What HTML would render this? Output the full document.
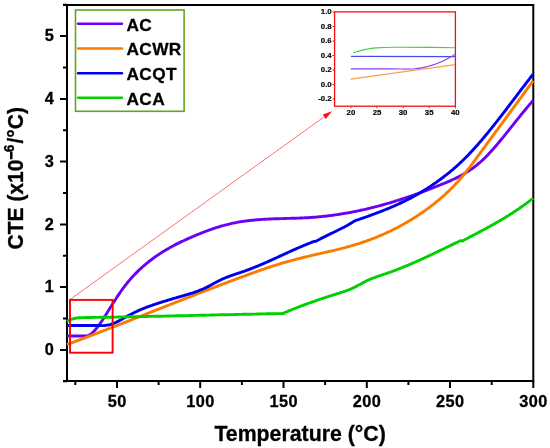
<!DOCTYPE html>
<html><head><meta charset="utf-8"><style>
html,body{margin:0;padding:0;background:#fff;}
svg{display:block;}
text{font-family:"Liberation Sans",Arial,sans-serif;font-weight:bold;fill:#000;stroke:#000;stroke-width:0.3px;}
.i text{stroke-width:0.15px;}
</style></head><body>
<svg width="550" height="448" viewBox="0 0 550 448">
<rect width="550" height="448" fill="#fff"/>
<path d="M63 5H533.3V381H63M67 5V381" stroke="#000" stroke-width="2" fill="none"/>
<path d="M75.3 381V385 M117.0 381V388 M158.6 381V385 M200.2 381V388 M241.9 381V385 M283.5 381V388 M325.1 381V385 M366.8 381V388 M408.4 381V385 M450.0 381V388 M491.7 381V385 M533.3 381V388 M67 381.3H63 M67 349.9H60 M67 318.5H63 M67 287.1H60 M67 255.8H63 M67 224.4H60 M67 193.0H63 M67 161.6H60 M67 130.2H63 M67 98.9H60 M67 67.5H63 M67 36.1H60 M67 4.7H63" stroke="#000" stroke-width="2" fill="none"/>
<g fill="none" stroke-width="2.9" stroke-linejoin="round" stroke-linecap="butt">
<polyline points="67.0,336.0 85.0,336.0 86.0,336.0 87.0,336.0 88.0,335.7 89.0,335.2 90.0,334.6 91.0,333.9 92.0,333.1 93.0,332.2 94.0,331.2 95.0,330.1 96.0,328.9 97.0,327.7 98.0,326.4 99.0,325.0 100.0,323.6 101.0,322.2 102.0,320.7 103.0,319.2 104.0,317.6 105.0,316.0 106.0,314.5 107.0,312.9 108.0,311.3 109.0,309.7 110.0,308.1 111.0,306.5 112.0,304.9 113.0,303.3 114.0,301.8 115.0,300.2 116.0,298.7 117.0,297.1 118.0,295.6 119.0,294.1 120.0,292.7 121.0,291.2 122.0,289.8 123.0,288.4 124.0,287.1 125.0,285.7 126.0,284.5 127.0,283.2 128.0,282.0 129.0,280.8 130.0,279.6 131.0,278.4 132.0,277.3 133.0,276.2 134.0,275.2 135.0,274.1 136.0,273.1 137.0,272.1 138.0,271.1 139.0,270.1 140.0,269.2 141.0,268.3 142.0,267.4 143.0,266.5 144.0,265.6 145.0,264.8 146.0,263.9 147.0,263.1 148.0,262.3 149.0,261.5 150.0,260.7 151.0,260.0 152.0,259.2 153.0,258.5 154.0,257.7 155.0,257.0 156.0,256.3 157.0,255.6 158.0,254.9 159.0,254.3 160.0,253.6 161.0,253.0 162.0,252.3 163.0,251.7 164.0,251.1 165.0,250.5 166.0,249.9 167.0,249.3 168.0,248.7 169.0,248.2 170.0,247.6 171.0,247.0 172.0,246.5 173.0,246.0 174.0,245.4 175.0,244.9 176.0,244.4 177.0,243.9 178.0,243.4 179.0,242.9 180.0,242.4 181.0,241.9 182.0,241.4 183.0,241.0 184.0,240.5 185.0,240.0 186.0,239.6 187.0,239.1 188.0,238.7 189.0,238.2 190.0,237.8 191.0,237.4 192.0,236.9 193.0,236.5 194.0,236.1 195.0,235.6 196.0,235.2 197.0,234.8 198.0,234.4 199.0,234.0 200.0,233.6 201.0,233.2 202.0,232.8 203.0,232.4 204.0,232.0 205.0,231.6 206.0,231.2 207.0,230.9 208.0,230.5 209.0,230.1 210.0,229.8 211.0,229.4 212.0,229.1 213.0,228.7 214.0,228.4 215.0,228.1 216.0,227.7 217.0,227.4 218.0,227.1 219.0,226.8 220.0,226.5 221.0,226.2 222.0,225.9 223.0,225.6 224.0,225.4 225.0,225.1 226.0,224.8 227.0,224.6 228.0,224.3 229.0,224.1 230.0,223.8 231.0,223.6 232.0,223.4 233.0,223.2 234.0,223.0 235.0,222.8 236.0,222.6 237.0,222.4 238.0,222.2 239.0,222.0 240.0,221.9 241.0,221.7 242.0,221.5 243.0,221.4 244.0,221.2 245.0,221.1 246.0,221.0 247.0,220.8 248.0,220.7 249.0,220.6 250.0,220.5 251.0,220.4 252.0,220.3 253.0,220.2 254.0,220.1 255.0,220.0 256.0,219.9 257.0,219.8 258.0,219.7 259.0,219.6 260.0,219.6 261.0,219.5 262.0,219.4 263.0,219.4 264.0,219.3 265.0,219.2 266.0,219.2 267.0,219.1 268.0,219.1 269.0,219.0 270.0,219.0 271.0,219.0 272.0,218.9 273.0,218.9 274.0,218.8 275.0,218.8 276.0,218.8 277.0,218.7 278.0,218.7 279.0,218.7 280.0,218.6 281.0,218.6 282.0,218.6 283.0,218.6 284.0,218.5 285.0,218.5 286.0,218.5 287.0,218.4 288.0,218.4 289.0,218.4 290.0,218.4 291.0,218.3 292.0,218.3 293.0,218.3 294.0,218.2 295.0,218.2 296.0,218.2 297.0,218.1 298.0,218.1 299.0,218.1 300.0,218.0 301.0,218.0 302.0,218.0 303.0,217.9 304.0,217.9 305.0,217.8 306.0,217.8 307.0,217.7 308.0,217.7 309.0,217.6 310.0,217.5 311.0,217.5 312.0,217.4 313.0,217.3 314.0,217.2 315.0,217.2 316.0,217.1 317.0,217.0 318.0,216.9 319.0,216.8 320.0,216.7 321.0,216.6 322.0,216.5 323.0,216.4 324.0,216.3 325.0,216.2 326.0,216.1 327.0,216.0 328.0,215.9 329.0,215.7 330.0,215.6 331.0,215.5 332.0,215.4 333.0,215.2 334.0,215.1 335.0,214.9 336.0,214.8 337.0,214.6 338.0,214.5 339.0,214.3 340.0,214.2 341.0,214.0 342.0,213.9 343.0,213.7 344.0,213.5 345.0,213.4 346.0,213.2 347.0,213.0 348.0,212.8 349.0,212.6 350.0,212.5 351.0,212.3 352.0,212.1 353.0,211.9 354.0,211.7 355.0,211.5 356.0,211.3 357.0,211.1 358.0,210.9 359.0,210.7 360.0,210.5 361.0,210.2 362.0,210.0 363.0,209.8 364.0,209.6 365.0,209.3 366.0,209.1 367.0,208.9 368.0,208.6 369.0,208.4 370.0,208.2 371.0,207.9 372.0,207.7 373.0,207.4 374.0,207.2 375.0,206.9 376.0,206.6 377.0,206.4 378.0,206.1 379.0,205.9 380.0,205.6 381.0,205.3 382.0,205.0 383.0,204.8 384.0,204.5 385.0,204.2 386.0,203.9 387.0,203.6 388.0,203.3 389.0,203.1 390.0,202.8 391.0,202.5 392.0,202.2 393.0,201.9 394.0,201.6 395.0,201.2 396.0,200.9 397.0,200.6 398.0,200.3 399.0,200.0 400.0,199.7 401.0,199.3 402.0,199.0 403.0,198.7 404.0,198.4 405.0,198.0 406.0,197.7 407.0,197.4 408.0,197.0 409.0,196.7 410.0,196.3 411.0,196.0 412.0,195.6 413.0,195.3 414.0,194.9 415.0,194.6 416.0,194.2 417.0,193.9 418.0,193.5 419.0,193.1 420.0,192.8 421.0,192.4 422.0,192.0 423.0,191.7 424.0,191.3 425.0,190.9 426.0,190.5 427.0,190.2 428.0,189.8 429.0,189.4 430.0,189.0 431.0,188.6 432.0,188.2 433.0,187.8 434.0,187.4 435.0,187.0 436.0,186.6 437.0,186.2 438.0,185.8 439.0,185.4 440.0,185.0 441.0,184.6 442.0,184.2 443.0,183.8 444.0,183.4 445.0,183.0 446.0,182.6 447.0,182.1 448.0,181.7 449.0,181.3 450.0,180.8 451.0,180.4 452.0,179.9 453.0,179.5 454.0,179.0 455.0,178.6 456.0,178.1 457.0,177.6 458.0,177.1 459.0,176.6 460.0,176.0 461.0,175.5 462.0,175.0 463.0,174.4 464.0,173.8 465.0,173.2 466.0,172.6 467.0,172.0 468.0,171.4 469.0,170.7 470.0,170.1 471.0,169.4 472.0,168.7 473.0,168.0 474.0,167.2 475.0,166.5 476.0,165.7 477.0,164.9 478.0,164.1 479.0,163.2 480.0,162.4 481.0,161.5 482.0,160.6 483.0,159.6 484.0,158.7 485.0,157.7 486.0,156.7 487.0,155.7 488.0,154.7 489.0,153.6 490.0,152.5 491.0,151.4 492.0,150.3 493.0,149.2 494.0,148.1 495.0,147.0 496.0,145.8 497.0,144.6 498.0,143.4 499.0,142.2 500.0,141.0 501.0,139.8 502.0,138.6 503.0,137.4 504.0,136.2 505.0,134.9 506.0,133.7 507.0,132.4 508.0,131.2 509.0,129.9 510.0,128.6 511.0,127.4 512.0,126.1 513.0,124.9 514.0,123.6 515.0,122.3 516.0,121.1 517.0,119.8 518.0,118.6 519.0,117.3 520.0,116.1 521.0,114.8 522.0,113.6 523.0,112.4 524.0,111.2 525.0,110.0 526.0,108.8 527.0,107.6 528.0,106.4 529.0,105.2 530.0,104.1 531.0,102.9 532.0,101.8 533.0,100.7 533.2,100.5" stroke="#6c00f5" />
<polyline points="67.0,344.6 68.0,344.2 69.0,343.8 70.0,343.5 71.0,343.1 72.0,342.7 73.0,342.3 74.0,342.0 75.0,341.6 76.0,341.2 77.0,340.8 78.0,340.5 79.0,340.1 80.0,339.7 81.0,339.3 82.0,339.0 83.0,338.6 84.0,338.2 85.0,337.8 86.0,337.4 87.0,337.1 88.0,336.7 89.0,336.3 90.0,335.9 91.0,335.5 92.0,335.1 93.0,334.8 94.0,334.4 95.0,334.0 96.0,333.6 97.0,333.2 98.0,332.8 99.0,332.5 100.0,332.1 101.0,331.7 102.0,331.3 103.0,330.9 104.0,330.5 105.0,330.1 106.0,329.8 107.0,329.4 108.0,329.0 109.0,328.6 110.0,328.2 111.0,327.8 112.0,327.4 113.0,327.0 114.0,326.6 115.0,326.3 116.0,325.9 117.0,325.5 118.0,325.1 119.0,324.7 120.0,324.3 121.0,323.9 122.0,323.5 123.0,323.1 124.0,322.7 125.0,322.3 126.0,322.0 127.0,321.6 128.0,321.2 129.0,320.8 130.0,320.4 131.0,320.0 132.0,319.6 133.0,319.2 134.0,318.8 135.0,318.4 136.0,318.0 137.0,317.6 138.0,317.2 139.0,316.8 140.0,316.4 141.0,316.1 142.0,315.7 143.0,315.3 144.0,314.9 145.0,314.5 146.0,314.1 147.0,313.7 148.0,313.3 149.0,312.9 150.0,312.5 151.0,312.1 152.0,311.7 153.0,311.3 154.0,310.9 155.0,310.5 156.0,310.1 157.0,309.7 158.0,309.3 159.0,308.9 160.0,308.6 161.0,308.2 162.0,307.8 163.0,307.4 164.0,307.0 165.0,306.6 166.0,306.2 167.0,305.8 168.0,305.4 169.0,305.0 170.0,304.6 171.0,304.2 172.0,303.8 173.0,303.4 174.0,303.0 175.0,302.6 176.0,302.2 177.0,301.9 178.0,301.5 179.0,301.1 180.0,300.7 181.0,300.3 182.0,299.9 183.0,299.5 184.0,299.1 185.0,298.7 186.0,298.3 187.0,297.9 188.0,297.5 189.0,297.1 190.0,296.8 191.0,296.4 192.0,296.0 193.0,295.6 194.0,295.2 195.0,294.8 196.0,294.4 197.0,294.0 198.0,293.6 199.0,293.2 200.0,292.9 201.0,292.5 202.0,292.1 203.0,291.7 204.0,291.3 205.0,290.9 206.0,290.5 207.0,290.1 208.0,289.8 209.0,289.4 210.0,289.0 211.0,288.6 212.0,288.2 213.0,287.8 214.0,287.4 215.0,287.1 216.0,286.7 217.0,286.3 218.0,285.9 219.0,285.5 220.0,285.1 221.0,284.8 222.0,284.4 223.0,284.0 224.0,283.6 225.0,283.2 226.0,282.9 227.0,282.5 228.0,282.1 229.0,281.7 230.0,281.3 231.0,281.0 232.0,280.6 233.0,280.2 234.0,279.8 235.0,279.5 236.0,279.1 237.0,278.7 238.0,278.3 239.0,278.0 240.0,277.6 241.0,277.2 242.0,276.9 243.0,276.5 244.0,276.1 245.0,275.8 246.0,275.4 247.0,275.0 248.0,274.7 249.0,274.3 250.0,273.9 251.0,273.6 252.0,273.2 253.0,272.9 254.0,272.5 255.0,272.1 256.0,271.8 257.0,271.4 258.0,271.1 259.0,270.7 260.0,270.4 261.0,270.0 262.0,269.7 263.0,269.4 264.0,269.0 265.0,268.7 266.0,268.3 267.0,268.0 268.0,267.7 269.0,267.3 270.0,267.0 271.0,266.7 272.0,266.4 273.0,266.0 274.0,265.7 275.0,265.4 276.0,265.1 277.0,264.8 278.0,264.5 279.0,264.1 280.0,263.8 281.0,263.5 282.0,263.2 283.0,262.9 284.0,262.6 285.0,262.3 286.0,262.0 287.0,261.8 288.0,261.5 289.0,261.2 290.0,260.9 291.0,260.6 292.0,260.4 293.0,260.1 294.0,259.8 295.0,259.6 296.0,259.3 297.0,259.0 298.0,258.8 299.0,258.5 300.0,258.3 301.0,258.0 302.0,257.8 303.0,257.5 304.0,257.3 305.0,257.0 306.0,256.8 307.0,256.6 308.0,256.3 309.0,256.1 310.0,255.9 311.0,255.6 312.0,255.4 313.0,255.2 314.0,254.9 315.0,254.7 316.0,254.5 317.0,254.2 318.0,254.0 319.0,253.8 320.0,253.6 321.0,253.3 322.0,253.1 323.0,252.9 324.0,252.7 325.0,252.4 326.0,252.2 327.0,252.0 328.0,251.7 329.0,251.5 330.0,251.3 331.0,251.0 332.0,250.8 333.0,250.6 334.0,250.3 335.0,250.1 336.0,249.8 337.0,249.6 338.0,249.3 339.0,249.1 340.0,248.8 341.0,248.6 342.0,248.3 343.0,248.1 344.0,247.8 345.0,247.6 346.0,247.3 347.0,247.0 348.0,246.7 349.0,246.5 350.0,246.2 351.0,245.9 352.0,245.6 353.0,245.3 354.0,245.0 355.0,244.7 356.0,244.4 357.0,244.1 358.0,243.8 359.0,243.5 360.0,243.2 361.0,242.8 362.0,242.5 363.0,242.2 364.0,241.8 365.0,241.5 366.0,241.1 367.0,240.8 368.0,240.4 369.0,240.0 370.0,239.7 371.0,239.3 372.0,238.9 373.0,238.5 374.0,238.2 375.0,237.8 376.0,237.4 377.0,237.0 378.0,236.5 379.0,236.1 380.0,235.7 381.0,235.3 382.0,234.9 383.0,234.4 384.0,234.0 385.0,233.5 386.0,233.1 387.0,232.6 388.0,232.2 389.0,231.7 390.0,231.2 391.0,230.7 392.0,230.2 393.0,229.7 394.0,229.2 395.0,228.7 396.0,228.2 397.0,227.7 398.0,227.2 399.0,226.7 400.0,226.1 401.0,225.6 402.0,225.0 403.0,224.5 404.0,223.9 405.0,223.3 406.0,222.8 407.0,222.2 408.0,221.6 409.0,221.0 410.0,220.4 411.0,219.8 412.0,219.2 413.0,218.6 414.0,217.9 415.0,217.3 416.0,216.7 417.0,216.0 418.0,215.4 419.0,214.7 420.0,214.0 421.0,213.3 422.0,212.7 423.0,212.0 424.0,211.3 425.0,210.6 426.0,209.8 427.0,209.1 428.0,208.4 429.0,207.6 430.0,206.9 431.0,206.1 432.0,205.4 433.0,204.6 434.0,203.8 435.0,203.0 436.0,202.2 437.0,201.4 438.0,200.6 439.0,199.8 440.0,198.9 441.0,198.1 442.0,197.2 443.0,196.3 444.0,195.4 445.0,194.5 446.0,193.6 447.0,192.7 448.0,191.7 449.0,190.8 450.0,189.8 451.0,188.8 452.0,187.8 453.0,186.8 454.0,185.8 455.0,184.7 456.0,183.6 457.0,182.5 458.0,181.4 459.0,180.3 460.0,179.1 461.0,178.0 462.0,176.8 463.0,175.6 464.0,174.4 465.0,173.1 466.0,171.9 467.0,170.6 468.0,169.3 469.0,168.1 470.0,166.8 471.0,165.4 472.0,164.1 473.0,162.8 474.0,161.5 475.0,160.1 476.0,158.8 477.0,157.4 478.0,156.0 479.0,154.7 480.0,153.3 481.0,151.9 482.0,150.6 483.0,149.2 484.0,147.8 485.0,146.5 486.0,145.1 487.0,143.7 488.0,142.4 489.0,141.0 490.0,139.6 491.0,138.3 492.0,136.9 493.0,135.6 494.0,134.2 495.0,132.8 496.0,131.5 497.0,130.1 498.0,128.8 499.0,127.4 500.0,126.0 501.0,124.7 502.0,123.3 503.0,122.0 504.0,120.6 505.0,119.3 506.0,117.9 507.0,116.5 508.0,115.2 509.0,113.8 510.0,112.5 511.0,111.1 512.0,109.7 513.0,108.4 514.0,107.0 515.0,105.6 516.0,104.3 517.0,102.9 518.0,101.6 519.0,100.2 520.0,98.8 521.0,97.5 522.0,96.1 523.0,94.7 524.0,93.4 525.0,92.0 526.0,90.6 527.0,89.2 528.0,87.9 529.0,86.5 530.0,85.1 531.0,83.8 532.0,82.4 533.0,81.0 533.2,80.7" stroke="#fb7a00" />
<polyline points="67.0,325.5 98.0,325.5 99.0,325.4 100.0,325.5 101.0,325.6 102.0,325.6 103.0,325.6 104.0,325.6 105.0,325.5 106.0,325.4 107.0,325.2 108.0,325.0 109.0,324.8 110.0,324.6 111.0,324.3 112.0,323.9 113.0,323.6 114.0,323.2 115.0,322.8 116.0,322.3 117.0,321.9 118.0,321.4 119.0,320.8 120.0,320.3 121.0,319.8 122.0,319.2 123.0,318.6 124.0,318.0 125.0,317.5 126.0,316.9 127.0,316.3 128.0,315.8 129.0,315.2 130.0,314.7 131.0,314.2 132.0,313.7 133.0,313.2 134.0,312.7 135.0,312.2 136.0,311.7 137.0,311.3 138.0,310.8 139.0,310.4 140.0,309.9 141.0,309.5 142.0,309.1 143.0,308.7 144.0,308.3 145.0,307.9 146.0,307.5 147.0,307.1 148.0,306.7 149.0,306.4 150.0,306.0 151.0,305.6 152.0,305.3 153.0,304.9 154.0,304.6 155.0,304.3 156.0,303.9 157.0,303.6 158.0,303.3 159.0,302.9 160.0,302.6 161.0,302.3 162.0,302.0 163.0,301.7 164.0,301.4 165.0,301.1 166.0,300.8 167.0,300.5 168.0,300.2 169.0,299.9 170.0,299.6 171.0,299.3 172.0,299.0 173.0,298.7 174.0,298.4 175.0,298.1 176.0,297.8 177.0,297.5 178.0,297.2 179.0,297.0 180.0,296.7 181.0,296.4 182.0,296.1 183.0,295.8 184.0,295.5 185.0,295.2 186.0,294.9 187.0,294.6 188.0,294.3 189.0,294.0 190.0,293.7 191.0,293.4 192.0,293.1 193.0,292.8 194.0,292.4 195.0,292.1 196.0,291.7 197.0,291.4 198.0,291.0 199.0,290.6 200.0,290.2 201.0,289.8 202.0,289.4 203.0,289.0 204.0,288.5 205.0,288.1 206.0,287.6 207.0,287.1 208.0,286.6 209.0,286.1 210.0,285.6 211.0,285.0 212.0,284.5 213.0,283.9 214.0,283.3 215.0,282.8 216.0,282.2 217.0,281.7 218.0,281.2 219.0,280.7 220.0,280.2 221.0,279.7 222.0,279.2 223.0,278.8 224.0,278.4 225.0,278.0 226.0,277.5 227.0,277.2 228.0,276.8 229.0,276.4 230.0,276.0 231.0,275.7 232.0,275.3 233.0,275.0 234.0,274.6 235.0,274.3 236.0,273.9 237.0,273.6 238.0,273.3 239.0,273.0 240.0,272.6 241.0,272.3 242.0,271.9 243.0,271.6 244.0,271.3 245.0,270.9 246.0,270.6 247.0,270.2 248.0,269.8 249.0,269.5 250.0,269.1 251.0,268.7 252.0,268.3 253.0,267.9 254.0,267.5 255.0,267.1 256.0,266.7 257.0,266.3 258.0,265.9 259.0,265.5 260.0,265.1 261.0,264.6 262.0,264.2 263.0,263.8 264.0,263.3 265.0,262.9 266.0,262.5 267.0,262.0 268.0,261.6 269.0,261.1 270.0,260.7 271.0,260.2 272.0,259.8 273.0,259.3 274.0,258.9 275.0,258.4 276.0,258.0 277.0,257.5 278.0,257.0 279.0,256.6 280.0,256.1 281.0,255.7 282.0,255.2 283.0,254.7 284.0,254.3 285.0,253.8 286.0,253.4 287.0,252.9 288.0,252.5 289.0,252.0 290.0,251.5 291.0,251.1 292.0,250.6 293.0,250.2 294.0,249.7 295.0,249.3 296.0,248.9 297.0,248.4 298.0,248.0 299.0,247.5 300.0,247.1 301.0,246.7 302.0,246.3 303.0,245.8 304.0,245.4 305.0,245.0 306.0,244.6 307.0,244.2 308.0,243.8 309.0,243.4 310.0,243.0 311.0,242.6 312.0,242.2 313.0,241.8 314.0,241.5 314.2,241.4 315.8,241.4 316.8,240.8 317.8,240.3 318.8,239.7 319.8,239.2 320.8,238.6 321.8,238.1 322.8,237.6 323.8,237.1 324.8,236.6 325.8,236.1 326.8,235.6 327.8,235.1 328.8,234.6 329.8,234.1 330.8,233.6 331.8,233.2 332.8,232.7 333.8,232.2 334.8,231.7 335.8,231.3 336.8,230.8 337.8,230.3 338.8,229.8 339.8,229.3 340.8,228.8 341.8,228.3 342.8,227.8 343.8,227.3 344.8,226.8 345.8,226.2 346.8,225.7 347.8,225.1 348.8,224.5 349.8,223.9 350.8,223.4 351.8,222.7 352.8,222.1 353.8,221.5 354.5,221.0 355.5,220.6 356.5,220.2 357.5,219.9 358.5,219.6 359.5,219.2 360.5,218.9 361.5,218.5 362.5,218.2 363.5,217.8 364.5,217.5 365.5,217.1 366.5,216.8 367.5,216.4 368.5,216.1 369.5,215.7 370.5,215.3 371.5,215.0 372.5,214.6 373.5,214.2 374.5,213.9 375.5,213.5 376.5,213.1 377.5,212.7 378.5,212.4 379.5,212.0 380.5,211.6 381.5,211.2 382.5,210.8 383.5,210.4 384.5,210.0 385.5,209.6 386.5,209.2 387.5,208.8 388.5,208.4 389.5,208.0 390.5,207.5 391.5,207.1 392.5,206.7 393.5,206.3 394.5,205.8 395.5,205.4 396.5,204.9 397.5,204.5 398.5,204.0 399.5,203.6 400.5,203.1 401.5,202.6 402.5,202.1 403.5,201.7 404.5,201.2 405.5,200.7 406.5,200.2 407.5,199.7 408.5,199.2 409.5,198.6 410.5,198.1 411.5,197.6 412.5,197.1 413.5,196.5 414.5,196.0 415.5,195.4 416.5,194.9 417.5,194.3 418.5,193.7 419.5,193.1 420.5,192.5 421.5,192.0 422.5,191.3 423.5,190.7 424.5,190.1 425.5,189.5 426.5,188.9 427.5,188.2 428.5,187.6 429.5,186.9 430.5,186.3 431.5,185.6 432.5,184.9 433.5,184.2 434.5,183.6 435.5,182.9 436.5,182.2 437.5,181.4 438.5,180.7 439.5,180.0 440.5,179.3 441.5,178.5 442.5,177.8 443.5,177.0 444.5,176.2 445.5,175.4 446.5,174.7 447.5,173.9 448.5,173.1 449.5,172.3 450.5,171.4 451.5,170.6 452.5,169.8 453.5,168.9 454.5,168.0 455.5,167.2 456.5,166.3 457.5,165.4 458.5,164.5 459.5,163.5 460.5,162.6 461.5,161.7 462.5,160.7 463.5,159.7 464.5,158.7 465.5,157.7 466.5,156.7 467.5,155.7 468.5,154.7 469.5,153.6 470.5,152.6 471.5,151.5 472.5,150.4 473.5,149.3 474.5,148.2 475.5,147.1 476.5,146.0 477.5,144.9 478.5,143.7 479.5,142.6 480.5,141.4 481.5,140.3 482.5,139.1 483.5,137.9 484.5,136.7 485.5,135.5 486.5,134.3 487.5,133.1 488.5,131.9 489.5,130.6 490.5,129.4 491.5,128.2 492.5,126.9 493.5,125.7 494.5,124.4 495.5,123.1 496.5,121.9 497.5,120.6 498.5,119.3 499.5,118.0 500.5,116.7 501.5,115.5 502.5,114.2 503.5,112.9 504.5,111.6 505.5,110.3 506.5,109.0 507.5,107.6 508.5,106.3 509.5,105.0 510.5,103.7 511.5,102.4 512.5,101.1 513.5,99.8 514.5,98.4 515.5,97.1 516.5,95.8 517.5,94.5 518.5,93.2 519.5,91.9 520.5,90.5 521.5,89.2 522.5,87.9 523.5,86.6 524.5,85.3 525.5,84.0 526.5,82.7 527.5,81.4 528.5,80.1 529.5,78.8 530.5,77.5 531.5,76.2 532.5,74.9 533.2,74.0" stroke="#0000f0" />
<polyline points="67.0,321.4 68.0,320.8 69.0,320.3 70.0,319.9 71.0,319.4 72.0,319.1 73.0,318.8 74.0,318.5 75.0,318.3 76.0,318.1 77.0,318.0 78.0,317.9 79.0,317.8 80.0,317.7 81.0,317.6 82.0,317.6 83.0,317.6 84.0,317.6 85.0,317.6 86.0,317.5 87.0,317.5 88.0,317.5 89.0,317.5 90.0,317.5 91.0,317.5 92.0,317.5 93.0,317.4 94.0,317.4 95.0,317.4 96.0,317.4 97.0,317.4 98.0,317.4 99.0,317.4 100.0,317.3 101.0,317.3 102.0,317.3 103.0,317.3 104.0,317.3 105.0,317.3 106.0,317.2 107.0,317.2 108.0,317.2 109.0,317.2 110.0,317.2 111.0,317.2 112.0,317.1 113.0,317.1 114.0,317.1 115.0,317.1 116.0,317.1 117.0,317.1 118.0,317.0 119.0,317.0 120.0,317.0 121.0,317.0 122.0,317.0 123.0,316.9 124.0,316.9 125.0,316.9 126.0,316.9 127.0,316.9 128.0,316.9 129.0,316.8 130.0,316.8 131.0,316.8 132.0,316.8 133.0,316.8 134.0,316.7 135.0,316.7 136.0,316.7 137.0,316.7 138.0,316.7 139.0,316.6 140.0,316.6 141.0,316.6 142.0,316.6 143.0,316.6 144.0,316.5 145.0,316.5 146.0,316.5 147.0,316.5 148.0,316.4 149.0,316.4 150.0,316.4 151.0,316.4 152.0,316.4 153.0,316.3 154.0,316.3 155.0,316.3 156.0,316.3 157.0,316.3 158.0,316.2 159.0,316.2 160.0,316.2 161.0,316.2 162.0,316.2 163.0,316.1 164.0,316.1 165.0,316.1 166.0,316.1 167.0,316.0 168.0,316.0 169.0,316.0 170.0,316.0 171.0,316.0 172.0,315.9 173.0,315.9 174.0,315.9 175.0,315.9 176.0,315.8 177.0,315.8 178.0,315.8 179.0,315.8 180.0,315.8 181.0,315.7 182.0,315.7 183.0,315.7 184.0,315.7 185.0,315.6 186.0,315.6 187.0,315.6 188.0,315.6 189.0,315.5 190.0,315.5 191.0,315.5 192.0,315.5 193.0,315.5 194.0,315.4 195.0,315.4 196.0,315.4 197.0,315.4 198.0,315.3 199.0,315.3 200.0,315.3 201.0,315.3 202.0,315.3 203.0,315.2 204.0,315.2 205.0,315.2 206.0,315.2 207.0,315.1 208.0,315.1 209.0,315.1 210.0,315.1 211.0,315.0 212.0,315.0 213.0,315.0 214.0,315.0 215.0,315.0 216.0,314.9 217.0,314.9 218.0,314.9 219.0,314.9 220.0,314.8 221.0,314.8 222.0,314.8 223.0,314.8 224.0,314.8 225.0,314.7 226.0,314.7 227.0,314.7 228.0,314.7 229.0,314.6 230.0,314.6 231.0,314.6 232.0,314.6 233.0,314.6 234.0,314.5 235.0,314.5 236.0,314.5 237.0,314.5 238.0,314.4 239.0,314.4 240.0,314.4 241.0,314.4 242.0,314.4 243.0,314.3 244.0,314.3 245.0,314.3 246.0,314.3 247.0,314.2 248.0,314.2 249.0,314.2 250.0,314.2 251.0,314.2 252.0,314.1 253.0,314.1 254.0,314.1 255.0,314.1 256.0,314.1 257.0,314.0 258.0,314.0 259.0,314.0 260.0,314.0 261.0,313.9 262.0,313.9 263.0,313.9 264.0,313.9 265.0,313.9 266.0,313.8 267.0,313.8 268.0,313.8 269.0,313.8 270.0,313.8 271.0,313.7 272.0,313.7 273.0,313.7 274.0,313.7 275.0,313.7 276.0,313.6 277.0,313.6 278.0,313.6 279.0,313.6 280.0,313.6 281.0,313.6 282.0,313.5 283.0,313.5 283.3,313.5 284.3,312.9 285.3,312.4 286.3,312.0 287.3,311.6 288.3,311.1 289.3,310.7 290.3,310.3 291.3,309.9 292.3,309.5 293.3,309.0 294.3,308.6 295.3,308.3 296.3,307.9 297.3,307.5 298.3,307.1 299.3,306.7 300.3,306.3 301.3,305.9 302.3,305.6 303.3,305.2 304.3,304.8 305.3,304.5 306.3,304.1 307.3,303.7 308.3,303.4 309.3,303.0 310.3,302.7 311.3,302.3 312.3,302.0 313.3,301.6 314.3,301.3 315.3,300.9 316.3,300.6 317.3,300.2 318.3,299.9 319.3,299.5 320.3,299.2 321.3,298.9 322.3,298.5 323.3,298.2 324.3,297.9 325.3,297.5 326.3,297.2 327.3,296.9 328.3,296.5 329.3,296.2 330.3,295.9 331.3,295.6 332.3,295.3 333.3,294.9 334.3,294.6 335.3,294.3 336.3,294.0 337.3,293.7 338.3,293.4 339.3,293.1 340.3,292.7 341.3,292.4 342.3,292.1 343.3,291.8 344.3,291.4 345.3,291.1 346.3,290.7 347.3,290.4 348.3,290.0 349.3,289.6 350.3,289.2 351.3,288.8 352.3,288.3 353.3,287.9 354.3,287.4 355.3,286.9 356.3,286.4 357.3,285.8 358.3,285.3 359.3,284.8 360.3,284.2 361.3,283.7 362.3,283.1 363.3,282.6 364.3,282.1 365.3,281.5 366.3,281.0 367.3,280.5 368.3,280.1 369.3,279.6 370.3,279.2 371.3,278.8 372.3,278.4 373.3,278.0 374.3,277.6 375.3,277.3 376.3,276.9 377.3,276.5 378.3,276.2 379.3,275.9 380.3,275.5 381.3,275.2 382.3,274.9 383.3,274.5 384.3,274.2 385.3,273.9 386.3,273.5 387.3,273.2 388.3,272.8 389.3,272.5 390.3,272.1 391.3,271.8 392.3,271.4 393.3,271.0 394.3,270.6 395.3,270.3 396.3,269.9 397.3,269.5 398.3,269.1 399.3,268.7 400.3,268.3 401.3,267.9 402.3,267.5 403.3,267.1 404.3,266.7 405.3,266.3 406.3,265.9 407.3,265.5 408.3,265.1 409.3,264.6 410.3,264.2 411.3,263.8 412.3,263.3 413.3,262.9 414.3,262.5 415.3,262.0 416.3,261.6 417.3,261.1 418.3,260.7 419.3,260.2 420.3,259.8 421.3,259.3 422.3,258.9 423.3,258.4 424.3,258.0 425.3,257.5 426.3,257.0 427.3,256.6 428.3,256.1 429.3,255.6 430.3,255.2 431.3,254.7 432.3,254.2 433.3,253.8 434.3,253.3 435.3,252.8 436.3,252.3 437.3,251.9 438.3,251.4 439.3,250.9 440.3,250.4 441.3,249.9 442.3,249.5 443.3,249.0 444.3,248.5 445.3,248.0 446.3,247.5 447.3,247.0 448.3,246.5 449.3,246.1 450.3,245.6 451.3,245.1 452.3,244.6 453.3,244.1 454.3,243.6 455.3,243.1 456.3,242.7 457.3,242.2 458.3,241.7 459.3,241.2 460.3,240.7 460.6,240.6 462.6,241.0 463.6,240.3 464.6,239.8 465.6,239.2 466.6,238.7 467.6,238.2 468.6,237.7 469.6,237.1 470.6,236.6 471.6,236.1 472.6,235.6 473.6,235.0 474.6,234.5 475.6,234.0 476.6,233.5 477.6,232.9 478.6,232.4 479.6,231.9 480.6,231.4 481.6,230.8 482.6,230.3 483.6,229.8 484.6,229.2 485.6,228.7 486.6,228.1 487.6,227.6 488.6,227.0 489.6,226.5 490.6,225.9 491.6,225.4 492.6,224.8 493.6,224.3 494.6,223.7 495.6,223.1 496.6,222.6 497.6,222.0 498.6,221.4 499.6,220.8 500.6,220.2 501.6,219.7 502.6,219.1 503.6,218.5 504.6,217.9 505.6,217.3 506.6,216.6 507.6,216.0 508.6,215.4 509.6,214.8 510.6,214.1 511.6,213.5 512.6,212.9 513.6,212.2 514.6,211.5 515.6,210.9 516.6,210.2 517.6,209.5 518.6,208.9 519.6,208.2 520.6,207.5 521.6,206.8 522.6,206.1 523.6,205.4 524.6,204.6 525.6,203.9 526.6,203.2 527.6,202.4 528.6,201.7 529.6,200.9 530.6,200.1 531.6,199.4 532.6,198.6 533.2,198.1" stroke="#00d000" />
</g>
<rect x="70" y="299.9" width="42.6" height="52.8" fill="none" stroke="#ff0000" stroke-width="1.9"/>
<line x1="70" y1="299.5" x2="326" y2="115.5" stroke="#ff3030" stroke-width="0.7"/>
<path d="M332 111.2 L322.8 114.6 L325.8 118.9 Z" fill="#ff1010"/>
<g font-size="16.3" letter-spacing="0.45"><text x="117.3" y="407.1" text-anchor="middle">50</text><text x="200.5" y="407.1" text-anchor="middle">100</text><text x="283.8" y="407.1" text-anchor="middle">150</text><text x="367.1" y="407.1" text-anchor="middle">200</text><text x="450.3" y="407.1" text-anchor="middle">250</text><text x="533.6" y="407.1" text-anchor="middle">300</text><text x="54.2" y="355.1" text-anchor="end">0</text><text x="54.2" y="292.3" text-anchor="end">1</text><text x="54.2" y="229.6" text-anchor="end">2</text><text x="54.2" y="166.8" text-anchor="end">3</text><text x="54.2" y="104.1" text-anchor="end">4</text><text x="54.2" y="41.3" text-anchor="end">5</text></g>
<text x="214.4" y="441" font-size="21.3">Temperature (°C)</text>
<text transform="translate(23.2,249.4) rotate(-90) scale(1,1.07)" font-size="21">CTE (x10<tspan font-size="13" dy="-7" style="stroke-width:0.9px">−</tspan><tspan font-size="13" dy="-1.8">6</tspan><tspan dx="1.3" dy="8.8">/°C)</tspan></text>
<!-- legend -->
<rect x="75.5" y="10" width="108.6" height="101.3" fill="none" stroke="#62a51e" stroke-width="1.6"/>
<g stroke-width="2.4" stroke-linecap="round">
<line x1="78" y1="23.8" x2="122" y2="23.8" stroke="#6c00f5"/>
<line x1="78" y1="48.5" x2="122" y2="48.5" stroke="#fb7a00"/>
<line x1="78" y1="73.2" x2="122" y2="73.2" stroke="#0000f0"/>
<line x1="78" y1="97.8" x2="122" y2="97.8" stroke="#00d000"/>
</g>
<g font-size="17.3" letter-spacing="0.35">
<text x="126.5" y="30.6">AC</text>
<text x="126.5" y="55.3">ACWR</text>
<text x="126.5" y="80">ACQT</text>
<text x="126.5" y="104.7">ACA</text>
</g>
<!-- inset -->
<rect x="334.6" y="11.9" width="120.8" height="94.3" fill="#fff" stroke="#f21010" stroke-width="1.3"/>
<g fill="none" stroke-width="1.1">
<path d="M353.10,52.60 C355.23,52.07 362.07,50.18 365.90,49.40 C369.73,48.62 371.25,48.27 376.10,47.90 C380.95,47.53 385.68,47.28 395.00,47.20 C404.32,47.12 422.00,47.32 432.00,47.40 C442.00,47.48 451.17,47.65 455.00,47.70" stroke="#44d044"/>
<polyline points="351.0,56.4 455.0,56.6" stroke="#4848f0"/>
<path d="M350.70,68.90 C353.92,68.90 363.45,68.90 370.00,68.90 C376.55,68.90 385.00,68.88 390.00,68.90 C395.00,68.92 397.50,68.97 400.00,69.00 C402.50,69.03 403.33,69.10 405.00,69.10 C406.67,69.10 408.33,69.07 410.00,69.00 C411.67,68.93 413.33,68.85 415.00,68.70 C416.67,68.55 418.33,68.37 420.00,68.10 C421.67,67.83 423.33,67.48 425.00,67.10 C426.67,66.72 428.33,66.28 430.00,65.80 C431.67,65.32 433.33,64.78 435.00,64.20 C436.67,63.62 438.33,63.00 440.00,62.30 C441.67,61.60 443.33,60.83 445.00,60.00 C446.67,59.17 448.28,58.30 450.00,57.30 C451.72,56.30 454.42,54.55 455.30,54.00" stroke="#8a3cf0"/>
<polyline points="350.7,79.1 455.0,64.6" stroke="#f5a050"/>
</g>
<path d="M334.6 12.0H332.5 M334.6 26.5H332.5 M334.6 41.0H332.5 M334.6 55.5H332.5 M334.6 70.0H332.5 M334.6 84.5H332.5 M334.6 98.9H332.5 M350.9 106.2V108.3 M377.0 106.2V108.3 M403.1 106.2V108.3 M429.2 106.2V108.3 M455.3 106.2V108.3" stroke="#f21010" stroke-width="1" fill="none"/>
<g class="i" font-size="7.8"><text x="331.7" y="14.0" text-anchor="end">1.0</text><text x="331.7" y="28.5" text-anchor="end">0.8</text><text x="331.7" y="43.0" text-anchor="end">0.6</text><text x="331.7" y="57.5" text-anchor="end">0.4</text><text x="331.7" y="72.0" text-anchor="end">0.2</text><text x="331.7" y="86.5" text-anchor="end">0.0</text><text x="331.7" y="100.9" text-anchor="end">-0.2</text><text x="350.9" y="115" text-anchor="middle">20</text><text x="377.0" y="115" text-anchor="middle">25</text><text x="403.1" y="115" text-anchor="middle">30</text><text x="429.2" y="115" text-anchor="middle">35</text><text x="455.3" y="115" text-anchor="middle">40</text></g>
</svg>
</body></html>
